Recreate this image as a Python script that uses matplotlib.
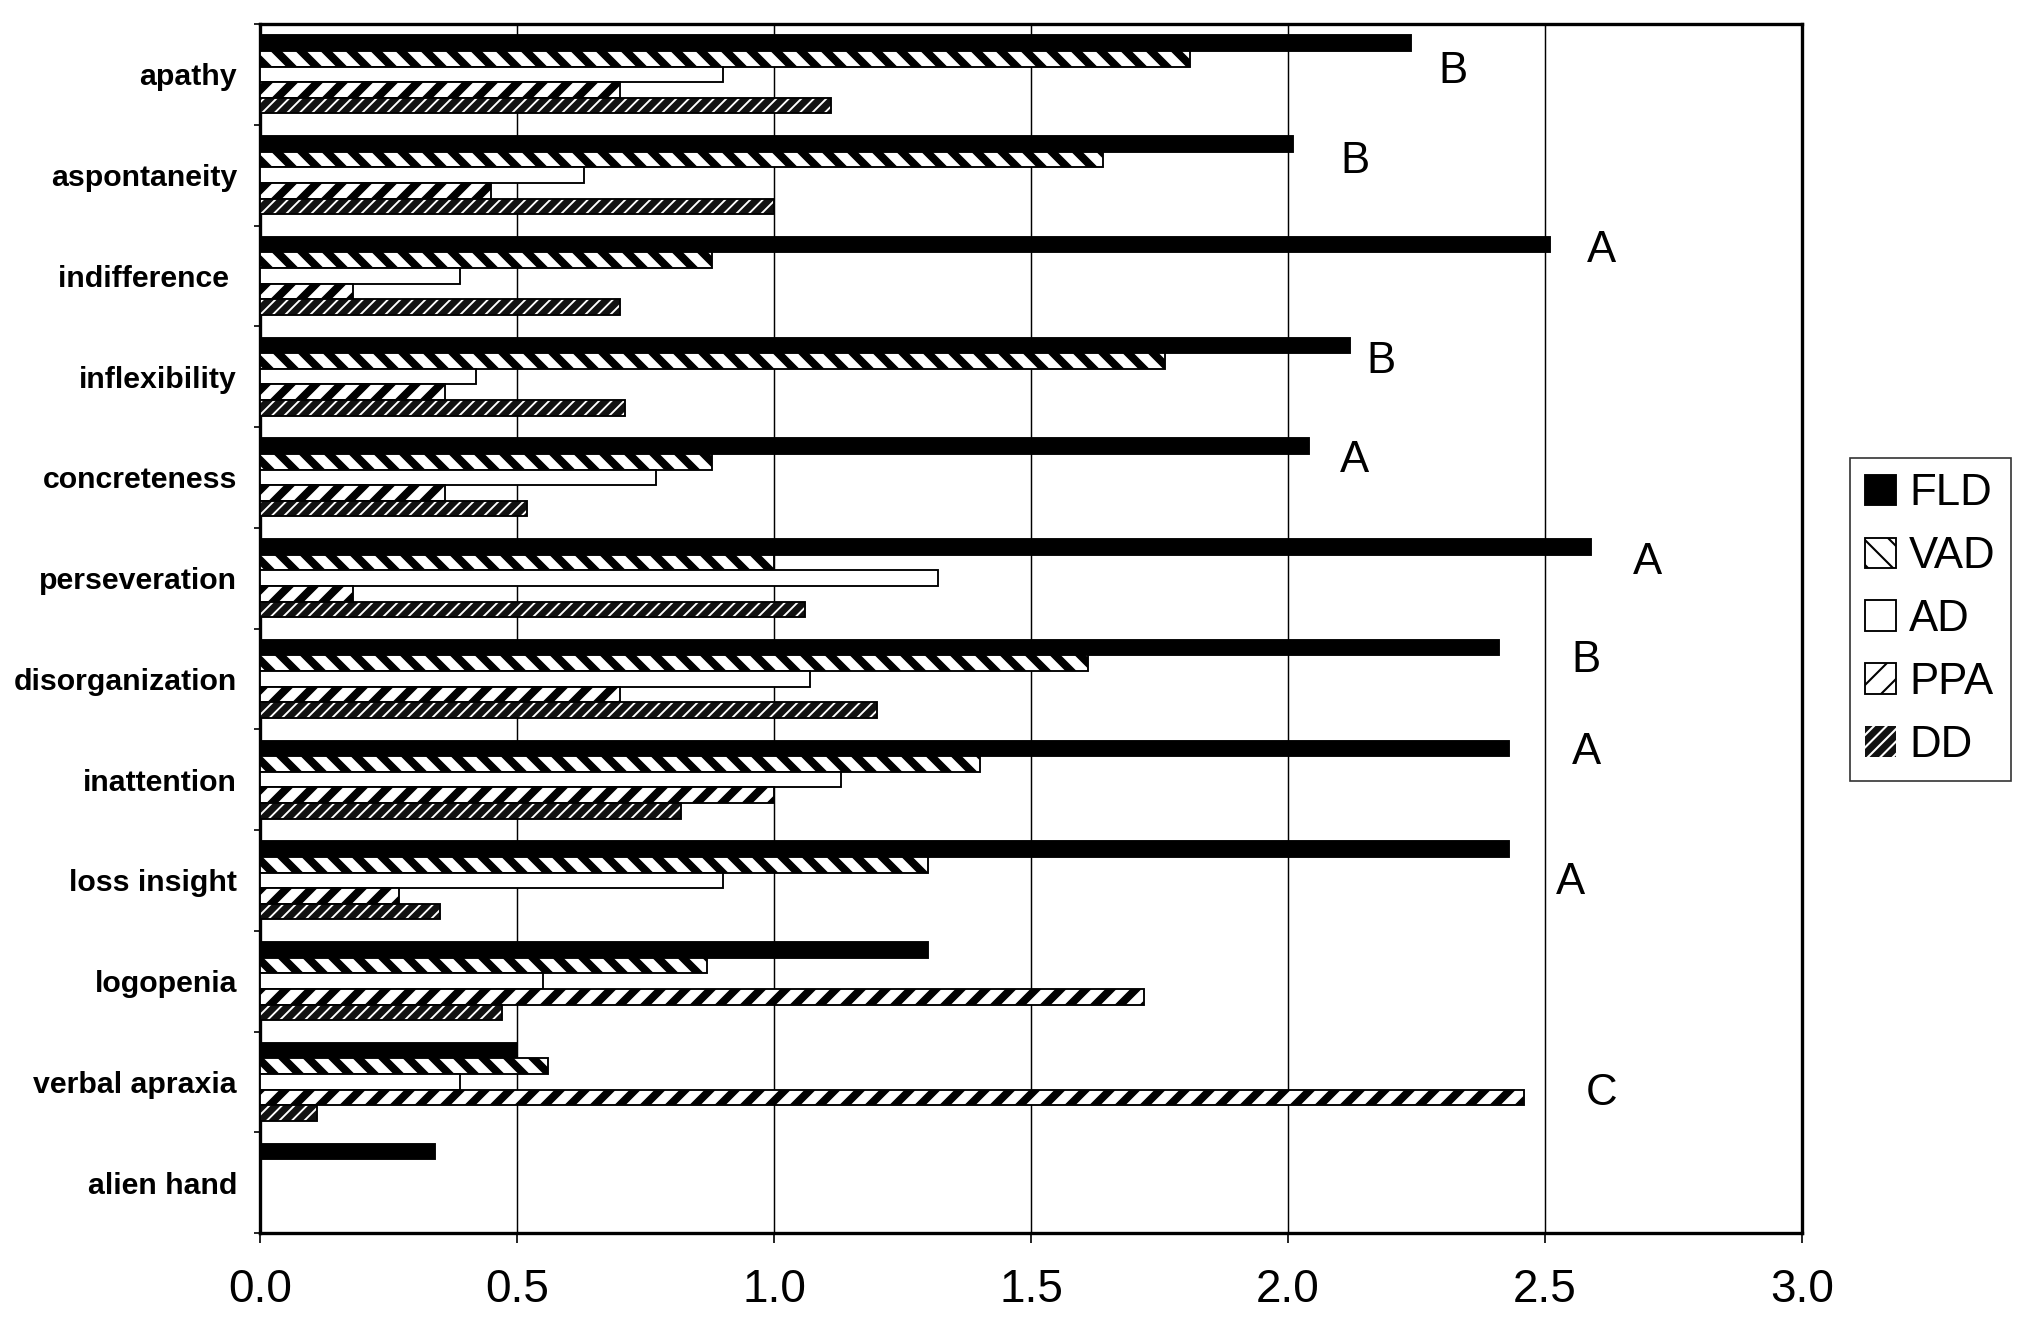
import numpy as np
import matplotlib as mpl
import matplotlib.pyplot as plt
from matplotlib.patches import Patch

categories = ["apathy", "aspontaneity", "indifference ", "inflexibility", "concreteness",
              "perseveration", "disorganization", "inattention", "loss insight",
              "logopenia", "verbal apraxia", "alien hand"]
series = ["FLD", "VAD", "AD", "PPA", "DD"]

fld = [2.24, 2.01, 2.51, 2.12, 2.04, 2.59, 2.41, 2.43, 2.43, 1.30, 0.50, 0.34]
vad = [1.81, 1.64, 0.88, 1.76, 0.88, 1.00, 1.61, 1.40, 1.30, 0.87, 0.56, 0.0]
ad = [0.90, 0.63, 0.39, 0.42, 0.77, 1.32, 1.07, 1.13, 0.90, 0.55, 0.39, 0.0]
ppa = [0.70, 0.45, 0.18, 0.36, 0.36, 0.18, 0.70, 1.00, 0.27, 1.72, 2.46, 0.0]
dd = [1.11, 1.00, 0.70, 0.71, 0.52, 1.06, 1.20, 0.82, 0.35, 0.47, 0.11, 0.0]

# significance letters next to the FLD bars
sig_letters = ["B", "B", "A", "B", "A", "A", "B", "A", "A", "", "C", ""]
sig_x = [2.32, 2.13, 2.61, 2.18, 2.13, 2.70, 2.58, 2.58, 2.55, 0, 2.61, 0]
sig_dy = [-0.03, -0.14, -0.25, -0.15, -0.17, -0.16, -0.18, -0.27, 0.02, 0, 0.12, 0]

values = [fld, vad, ad, ppa, dd]
styles = [
    dict(facecolor="black", edgecolor="black", hatch=None, hlw=1.0),
    dict(facecolor="white", edgecolor="black", hatch="\\\\", hlw=3.8),
    dict(facecolor="white", edgecolor="black", hatch=None, hlw=1.0),
    dict(facecolor="white", edgecolor="black", hatch="//", hlw=3.8),
    dict(facecolor="#111111", edgecolor="white", hatch="////", hlw=0.9),
]

fig = plt.figure(figsize=(2030 / 150, 1323 / 150), dpi=150)
ax = fig.add_axes([260 / 2030, 1 - 1233 / 1323, 1542 / 2030, 1209 / 1323])

y = np.arange(len(categories))
h = 0.155
for j, (vals, st) in enumerate(zip(values, styles)):
    pos = y + (j - 2) * h
    with mpl.rc_context({"hatch.linewidth": st["hlw"]}):
        ax.barh(pos, vals, height=h, facecolor=st["facecolor"], edgecolor=st["edgecolor"],
                hatch=st["hatch"], linewidth=0.9 if j != 4 else 0, zorder=3)
    if j == 4:
        ax.barh(pos, vals, height=h, fill=False, edgecolor="black", linewidth=0.9, zorder=4)

for i, lab in enumerate(sig_letters):
    if lab:
        ax.text(sig_x[i], y[i] + sig_dy[i], lab, ha="center", va="center",
                fontsize=21, family="Liberation Sans")

ax.set_xlim(0, 3.0)
ax.set_ylim(len(categories) - 0.5, -0.5)
ax.set_xticks(np.arange(0, 3.01, 0.5))
ax.set_xticklabels([f"{v:.1f}" for v in np.arange(0, 3.01, 0.5)], fontsize=22,
                   family="Liberation Sans")
ax.tick_params(axis="x", length=5, width=0.8, pad=12)

ax.set_yticks(np.arange(-0.5, len(categories), 1.0))
ax.set_yticklabels([])
ax.set_yticks(y, minor=True)
ax.set_yticklabels(categories, minor=True, fontsize=14.5, fontweight="bold",
                   family="Liberation Sans")
ax.tick_params(axis="y", which="major", length=3, width=0.8)
ax.tick_params(axis="y", which="minor", length=0, pad=11)

ax.grid(axis="x", color="black", linewidth=0.7, zorder=0)
ax.set_axisbelow(True)
for s in ax.spines.values():
    s.set_linewidth(1.6)

handles = []
for name, st in zip(series, styles):
    with mpl.rc_context({"hatch.linewidth": st["hlw"] * 0.7}):
        handles.append(Patch(facecolor=st["facecolor"], edgecolor=st["edgecolor"],
                             hatch=st["hatch"], linewidth=0.9 if name != "DD" else 0, label=name))
leg = fig.legend(handles=handles, loc="upper left", bbox_to_anchor=(1850 / 2030, 1 - 458 / 1323),
                 frameon=True, fancybox=False, edgecolor="black",
                 handlelength=0.7, handleheight=0.7, handletextpad=0.3, labelspacing=0.5,
                 borderpad=0.35, borderaxespad=0, prop={"family": "Liberation Sans", "size": 21})
leg.get_frame().set_linewidth(0.8)

fig.savefig("out.png", dpi=150, facecolor="white")
